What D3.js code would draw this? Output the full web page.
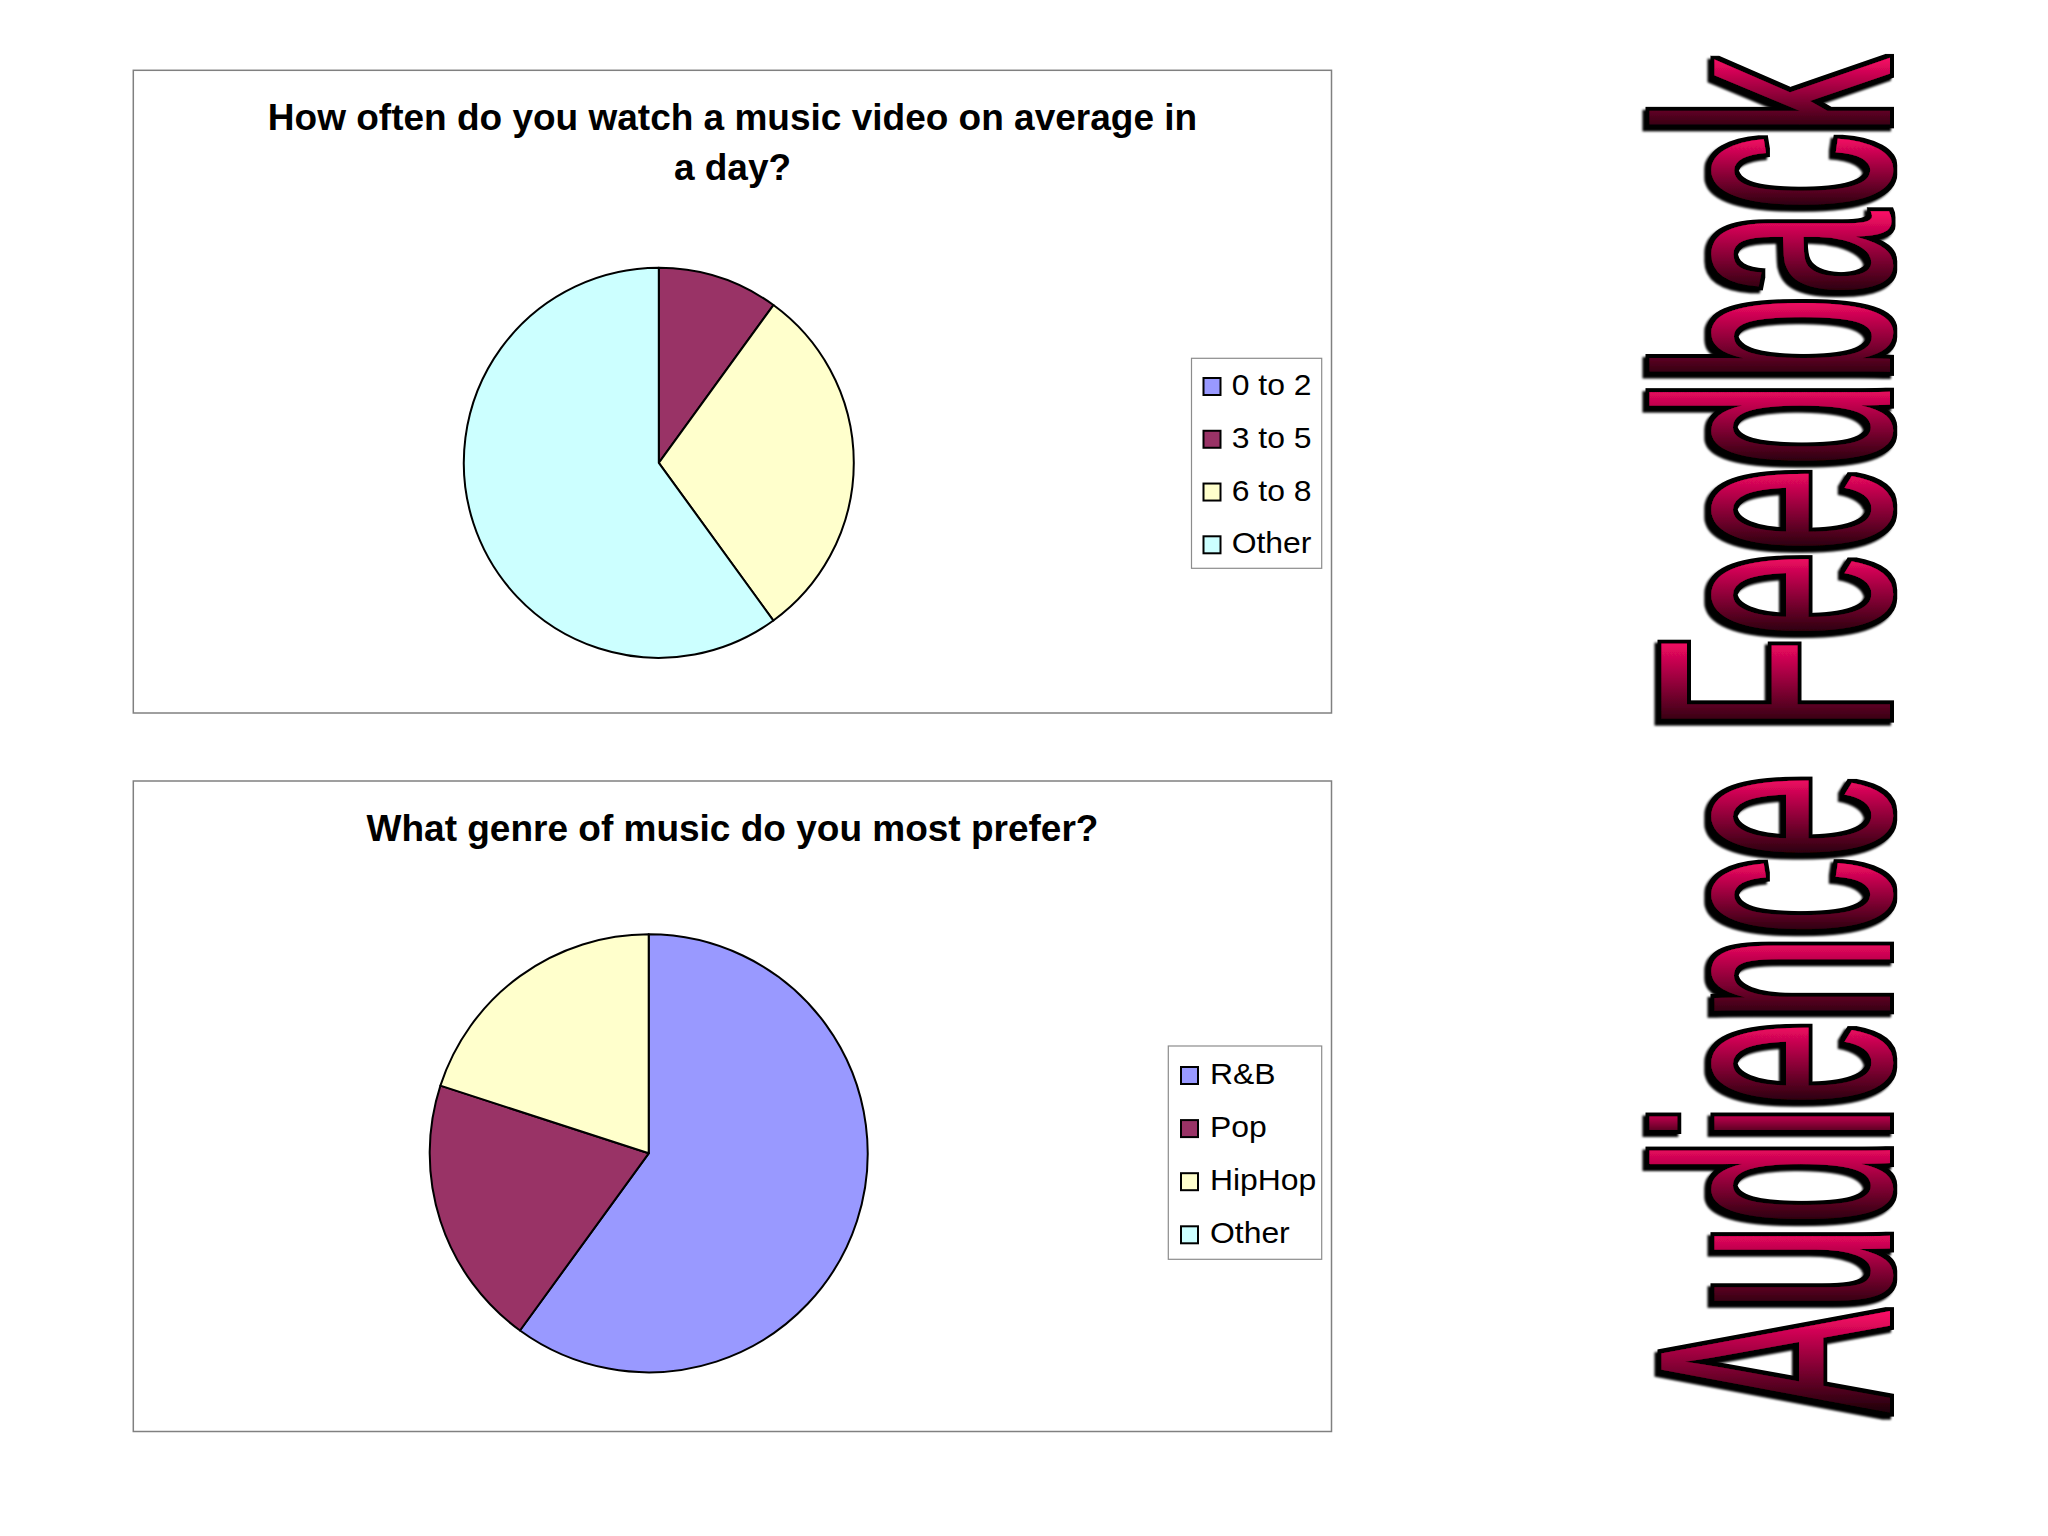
<!DOCTYPE html>
<html><head><meta charset="utf-8">
<script src="https://cdn.jsdelivr.net/npm/d3@7"></script>
<style>html,body{margin:0;padding:0;background:#fff;} svg{display:block;}</style>
</head><body>
<script>
// ---- data ----
const pie1Categories = ["0 to 2", "3 to 5", "6 to 8", "Other"];
const pie1Values = [0, 1, 3, 6];
const pie2Categories = ["R&B", "Pop", "HipHop", "Other"];
const pie2Values = [6, 2, 2, 0];
const sliceColors = ["#9999FF", "#993366", "#FFFFCC", "#CCFFFF"];
const pie1Title = ["How often do you watch a music video on average in", "a day?"];
const pie2Title = ["What genre of music do you most prefer?"];
const bannerText = "Audience Feedback";

const W = 2048, H = 1536;
const FONT = "'Liberation Sans', Arial, Helvetica, sans-serif";
const svg = d3.select("body").append("svg").attr("width", W).attr("height", H);
svg.append("rect").attr("width", W).attr("height", H).attr("fill", "#fff");
const defs = svg.append("defs");

function drawChart(cfg) {
  const g = svg.append("g");
  g.append("rect")
    .attr("x", cfg.box[0]).attr("y", cfg.box[1])
    .attr("width", cfg.box[2] - cfg.box[0]).attr("height", cfg.box[3] - cfg.box[1])
    .attr("fill", "#fff").attr("stroke", "#808080").attr("stroke-width", 1.5);

  g.selectAll("text.title").data(cfg.title).join("text")
    .attr("class", "title")
    .attr("x", cfg.titleX).attr("y", (d, i) => cfg.titleY + i * 50)
    .attr("text-anchor", "middle")
    .attr("font-family", FONT).attr("font-weight", "bold").attr("font-size", 37)
    .attr("fill", "#000").text(d => d);

  const data = cfg.categories.map((c, i) => ({ name: c, value: cfg.values[i], color: sliceColors[i] }));
  const pie = d3.pie().sort(null).value(d => d.value);
  const arcs = pie(data).filter(a => a.value > 0);
  const arc = d3.arc().innerRadius(0).outerRadius(cfg.r);
  g.append("g").attr("transform", `translate(${cfg.cx},${cfg.cy})`)
    .selectAll("path").data(arcs).join("path")
    .attr("d", arc).attr("fill", d => d.data.color)
    .attr("stroke", "#000").attr("stroke-width", 2).attr("stroke-linejoin", "round");

  const lg = g.append("g");
  lg.append("rect")
    .attr("x", cfg.legendBox[0]).attr("y", cfg.legendBox[1])
    .attr("width", cfg.legendBox[2] - cfg.legendBox[0]).attr("height", cfg.legendBox[3] - cfg.legendBox[1])
    .attr("fill", "#fff").attr("stroke", "#8c8c8c").attr("stroke-width", 1.2);
  const rowY = d3.scalePoint().domain(cfg.categories).range([cfg.legendRows[0], cfg.legendRows[1]]);
  const items = lg.selectAll("g.item").data(data).join("g").attr("class", "item")
    .attr("transform", d => `translate(0,${rowY(d.name)})`);
  items.append("rect")
    .attr("x", cfg.swatchX).attr("y", -9).attr("width", 17).attr("height", 17)
    .attr("fill", d => d.color).attr("stroke", "#000").attr("stroke-width", 2);
  items.append("text")
    .attr("transform", `translate(${cfg.textX},8) scale(1.1,1)`)
    .attr("font-family", FONT).attr("font-size", 29).attr("fill", "#000")
    .text(d => d.name);
}

drawChart({
  box: [133.3, 70.3, 1331.5, 713], title: pie1Title, titleX: 732.5, titleY: 130,
  categories: pie1Categories, values: pie1Values, cx: 658.8, cy: 462.8, r: 195,
  legendBox: [1191.5, 358.3, 1321.7, 568.3], legendRows: [387, 545.3], swatchX: 1203.5, textX: 1231.7
});
drawChart({
  box: [133.3, 781, 1331.5, 1431.5], title: pie2Title, titleX: 732.5, titleY: 840.7,
  categories: pie2Categories, values: pie2Values, cx: 648.7, cy: 1153.3, r: 219,
  legendBox: [1168.3, 1046, 1321.7, 1259.3], legendRows: [1076, 1235.3], swatchX: 1181, textX: 1210
});

// ---- vertical banner ----
const grad = defs.append("linearGradient").attr("id", "bannerGrad")
  .attr("x1", 0).attr("y1", 0).attr("x2", 1).attr("y2", 0);
grad.append("stop").attr("offset", 0).attr("stop-color", "#1c0008");
grad.append("stop").attr("offset", 0.5).attr("stop-color", "#8e0038");
grad.append("stop").attr("offset", 1).attr("stop-color", "#ff0a68");

const filt = defs.append("filter").attr("id", "bannerOutline")
  .attr("x", "-5%").attr("y", "-20%").attr("width", "110%").attr("height", "140%");
filt.append("feMorphology").attr("in", "SourceAlpha").attr("operator", "dilate").attr("radius", 3.5).attr("result", "dil");
filt.append("feFlood").attr("flood-color", "#000").attr("result", "black");
filt.append("feComposite").attr("in", "black").attr("in2", "dil").attr("operator", "in").attr("result", "outline");
filt.append("feOffset").attr("in", "outline").attr("dx", -3).attr("dy", -3).attr("result", "shadowOff");
filt.append("feGaussianBlur").attr("in", "shadowOff").attr("stdDeviation", 1).attr("result", "shadow");
const merge = filt.append("feMerge");
merge.append("feMergeNode").attr("in", "shadow");
merge.append("feMergeNode").attr("in", "outline");
merge.append("feMergeNode").attr("in", "SourceGraphic");

const bannerBaseX = 1890, bannerStartY = 1413, bannerLen = 1355, bannerFont = 332;
const bannerG = svg.append("g")
  .attr("transform", `translate(${bannerBaseX},${bannerStartY}) rotate(-90)`)
  .attr("filter", "url(#bannerOutline)");
const inner = bannerG.append("g");
const measure = inner.append("text")
  .attr("font-family", FONT).attr("font-weight", "normal").attr("font-size", bannerFont)
  .attr("fill", "none").text(bannerText);
const mnode = measure.node();
const totalLen = mnode.getComputedTextLength();
const chars = bannerText.split("");
const xs = chars.map((c, i) => mnode.getStartPositionOfChar(i).x);
measure.remove();
inner.attr("transform", `scale(${bannerLen / totalLen},1)`);
inner.selectAll("text").data(chars.map((c, i) => ({ c, x: xs[i] })).filter(d => d.c !== " "))
  .join("text")
  .attr("x", d => d.x).attr("y", 0)
  .attr("font-family", FONT).attr("font-weight", "normal").attr("font-size", bannerFont)
  .attr("fill", "url(#bannerGrad)")
  .text(d => d.c);
</script>
</body></html>
